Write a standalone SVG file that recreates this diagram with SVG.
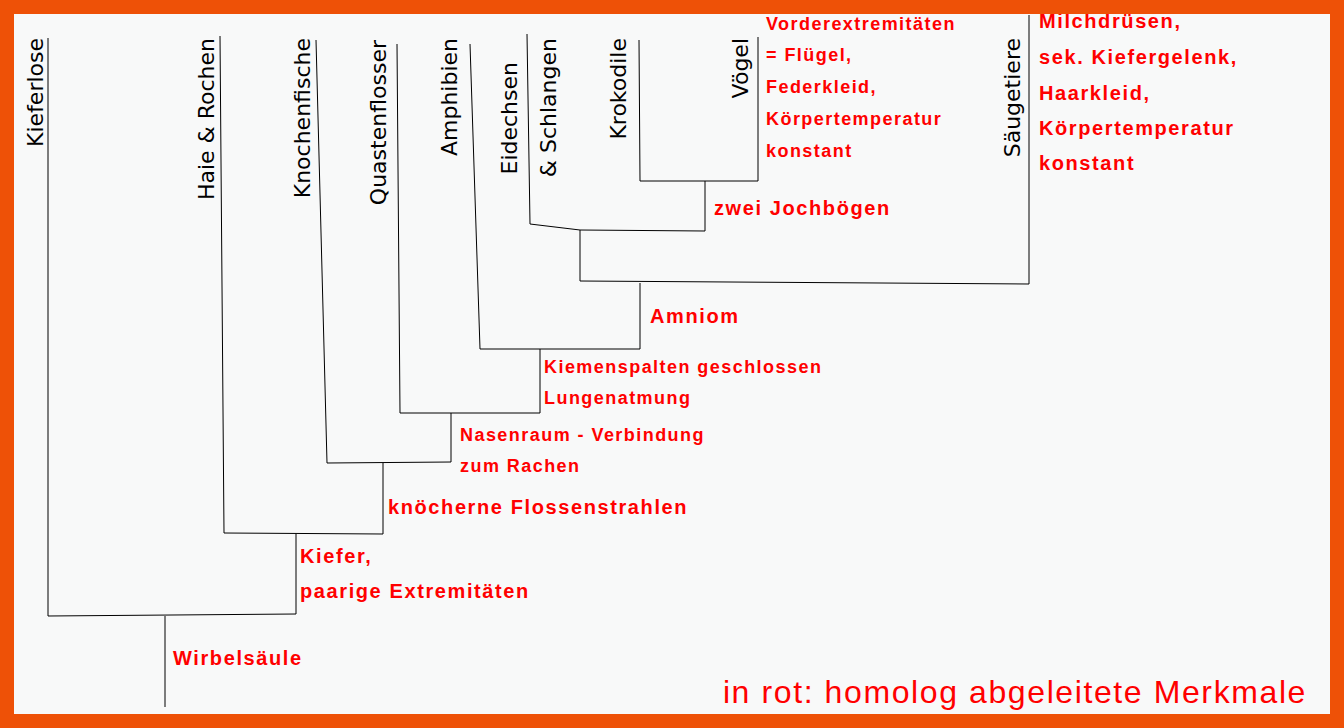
<svg xmlns="http://www.w3.org/2000/svg" width="1344" height="728" viewBox="0 0 1344 728">
<style>
.l{fill:none;stroke:#000;stroke-width:1}
.t{font-family:"DejaVu Sans","Liberation Sans",sans-serif;font-size:22px;fill:#000;text-anchor:end}
.r{font-family:"Liberation Sans",Arial,sans-serif;font-weight:bold;font-size:20px;fill:#f00;letter-spacing:1.6px}
.s{font-size:18px;letter-spacing:1.45px}
</style>
<rect width="1344" height="728" fill="#f8f9f9"/>
<g id="connectors">
<polyline class="l" points="165,707 165,616"/>
<polyline class="l" points="48,38 48,616 296,614 296,534"/>
<polyline class="l" points="220,36 224,533 383,534 383,463"/>
<polyline class="l" points="316,40 327,463 451,462 451,413"/>
<polyline class="l" points="397,44 400,413 540,413 540,349"/>
<polyline class="l" points="470,44 480,349 640,349 640,283"/>
<polyline class="l" points="527,34 530,224 580,230 705,231 705,181"/>
<polyline class="l" points="580,230 580,281 1029,284 1029,15"/>
<polyline class="l" points="639,40 640,181 758,181 758,37"/>
</g>
<g id="taxa">
<text class="t" transform="translate(43,38) rotate(-90)">Kieferlose</text>
<text class="t" transform="translate(214,38) rotate(-90)">Haie &amp; Rochen</text>
<text class="t" transform="translate(310,38) rotate(-90)">Knochenfische</text>
<text class="t" transform="translate(386,40) rotate(-90)">Quastenflosser</text>
<text class="t" transform="translate(457,38) rotate(-90)">Amphibien</text>
<text class="t" transform="translate(517,62) rotate(-90)">Eidechsen</text>
<text class="t" transform="translate(556,38) rotate(-90)">&amp; Schlangen</text>
<text class="t" transform="translate(626,38) rotate(-90)">Krokodile</text>
<text class="t" transform="translate(748,38) rotate(-90)">Vögel</text>
<text class="t" transform="translate(1020,38) rotate(-90)">Säugetiere</text>
</g>
<g id="traits">
<text class="r" x="173" y="665">Wirbelsäule</text>
<text class="r" x="300" y="563">Kiefer,</text>
<text class="r" x="300" y="598">paarige Extremitäten</text>
<text class="r" x="388" y="514">knöcherne Flossenstrahlen</text>
<text class="r s" x="460" y="441">Nasenraum - Verbindung</text>
<text class="r s" x="460" y="472">zum Rachen</text>
<text class="r s" x="544" y="373">Kiemenspalten geschlossen</text>
<text class="r s" x="544" y="404">Lungenatmung</text>
<text class="r" x="650" y="323">Amniom</text>
<text class="r" x="714" y="215">zwei Jochbögen</text>
<text class="r s" x="766" y="30">Vorderextremitäten</text>
<text class="r s" x="766" y="61">= Flügel,</text>
<text class="r s" x="766" y="93">Federkleid,</text>
<text class="r s" x="766" y="125">Körpertemperatur</text>
<text class="r s" x="766" y="157">konstant</text>
<text class="r" x="1039" y="28">Milchdrüsen,</text>
<text class="r" x="1039" y="64">sek. Kiefergelenk,</text>
<text class="r" x="1039" y="100">Haarkleid,</text>
<text class="r" x="1039" y="135">Körpertemperatur</text>
<text class="r" x="1039" y="170">konstant</text>
<text x="1307" y="703" text-anchor="end" font-family="Liberation Sans,Arial,sans-serif" font-size="32" letter-spacing="1.6" fill="#f00">in rot: homolog abgeleitete Merkmale</text>
</g>
<path d="M0,0H1344V728H0Z M14,14V714H1330V14Z" fill="#ee5107" fill-rule="evenodd"/>
</svg>
